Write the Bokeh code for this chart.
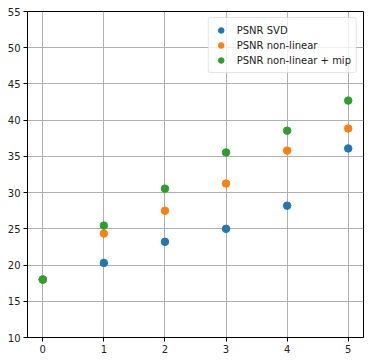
from bokeh.plotting import figure
from bokeh.models import FixedTicker, Legend, LegendItem
from bokeh.embed import file_html
from bokeh.resources import INLINE

steps = [0, 1, 2, 3, 4, 5]
psnr_svd = [18.0, 20.3, 23.2, 25.0, 28.2, 36.1]
psnr_nonlinear = [18.0, 24.35, 27.5, 31.25, 35.8, 38.85]
psnr_nonlinear_mip = [18.0, 25.45, 30.55, 35.55, 38.55, 42.7]
series_names = ["PSNR SVD", "PSNR non-linear", "PSNR non-linear + mip"]
colors = ["#1f77b4", "#ff7f0e", "#2ca02c"]
x_ticks = [0, 1, 2, 3, 4, 5]
y_ticks = [10, 15, 20, 25, 30, 35, 40, 45, 50, 55]

p = figure(width=366, height=358, output_backend="svg", toolbar_location=None,
           x_range=(-0.25, 5.25), y_range=(10, 55),
           frame_width=336, frame_height=326,
           min_border_left=27, min_border_right=3, min_border_top=11, min_border_bottom=21)

p.background_fill_color = "white"
p.border_fill_color = "white"
p.outline_line_color = "black"
p.outline_line_width = 1
p.outline_line_alpha = 1

for ax in (p.xaxis[0], p.yaxis[0]):
    ax.axis_line_color = "black"
    ax.major_tick_out = 4
    ax.major_tick_in = 0
    ax.minor_tick_line_color = None
    ax.major_tick_line_color = "black"
    ax.major_label_text_font = "DejaVu Sans"
    ax.major_label_text_font_size = "10px"
    ax.major_label_text_color = "#222222"
    ax.major_label_standoff = 3

p.xaxis.ticker = FixedTicker(ticks=x_ticks)
p.yaxis.ticker = FixedTicker(ticks=y_ticks)

for g in (p.xgrid[0], p.ygrid[0]):
    g.grid_line_color = "#b0b0b0"
    g.grid_line_width = 1

renderers = []
for vals, c in zip([psnr_svd, psnr_nonlinear, psnr_nonlinear_mip], colors):
    r = p.scatter(steps, vals, size=7.5, color=c, line_color=c)
    renderers.append(r)

legend = Legend(items=[LegendItem(label=n, renderers=[r]) for n, r in zip(series_names, renderers)],
                location="top_right")
legend.label_text_font = "DejaVu Sans"
legend.label_text_font_size = "10px"
legend.label_text_color = "#222222"
legend.label_height = 12
legend.glyph_width = 14
legend.glyph_height = 14
legend.spacing = 1
legend.padding = 5
legend.margin = 5
legend.label_standoff = 9
legend.border_line_color = "#cccccc"
legend.border_line_width = 1
legend.background_fill_alpha = 0.8
legend.border_radius = 3
legend.location = (-8, -3)
legend.location = "top_right"
legend.margin = 6
p.add_layout(legend)

open("out.html", "w").write(file_html(p, INLINE))
